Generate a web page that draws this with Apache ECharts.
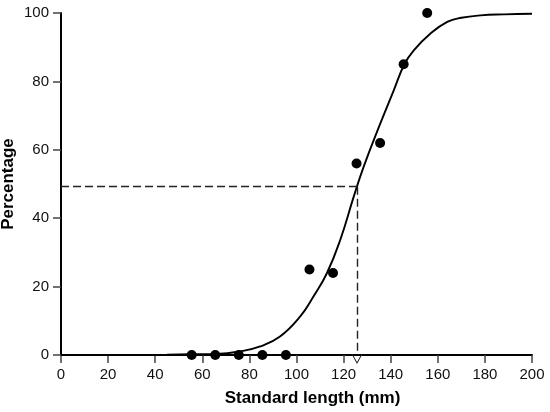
<!DOCTYPE html>
<html>
<head>
<meta charset="utf-8">
<script src="https://cdn.jsdelivr.net/npm/echarts@6/dist/echarts.min.js"></script>
<style>
  html, body { margin: 0; padding: 0; background: #fff; }
  #graph { width: 550px; height: 412px; }
</style>
</head>
<body>
<div id="graph"></div>
<script>
var chart = echarts.init(document.getElementById('graph'));

// observed percentages (dots)
var lengths = [55.5, 65.5, 75.5, 85.5, 95.5, 105.5, 115.5, 125.5, 135.5, 145.5, 155.5];
var percent = [0, 0, 0, 0, 0, 25, 24, 56, 62, 85, 100];

// fitted curve
var curveX = [0, 30, 45, 55, 66, 76, 84.6, 93, 101.6, 107.2, 112.9, 118.6, 124.3, 128.5, 135.6, 141.3, 145.8, 149.8, 156.9, 164, 170, 178.2, 188, 200];
var curveY = [0, 0.02, 0.1, 0.2, 0.3, 1.05, 2.5, 5.4, 11.3, 17.1, 23.9, 33.7, 46.3, 55, 67.7, 77.4, 85, 89.1, 94, 97.4, 98.6, 99.3, 99.6, 99.8];

// length at 50% maturity
var l50x = 125.7;
var l50y = 49.2;

var xTicks = [0, 20, 40, 60, 80, 100, 120, 140, 160, 180, 200];
var yTicks = [0, 20, 40, 60, 80, 100];

var font = 'Liberation Sans, Arial, sans-serif';

var dots = lengths.map(function (x, i) { return [x, percent[i]]; });
var curve = curveX.map(function (x, i) { return [x, curveY[i]]; });

option = {
    animation: false,
    grid: {
        left: 61,
        right: 18,
        top: 13,
        bottom: 57,
        containLabel: false,
        outerBoundsMode: 'none'
    },
    xAxis: {
        type: 'value',
        min: xTicks[0],
        max: xTicks[xTicks.length - 1],
        interval: 20,
        name: 'Standard length (mm)',
        nameLocation: 'middle',
        nameGap: 35,
        nameMoveOverlap: false,
        nameTextStyle: {
            fontFamily: font,
            fontWeight: 'bold',
            fontSize: 17,
            color: '#000',
            padding: [0, 0, 0, 32]
        },
        axisLine: { lineStyle: { color: '#000', width: 2 } },
        axisTick: { length: 8, lineStyle: { color: '#444', width: 1.5 } },
        axisLabel: { margin: 12, fontFamily: font, fontSize: 15, color: '#111' },
        splitLine: { show: false }
    },
    yAxis: {
        type: 'value',
        min: yTicks[0],
        max: yTicks[yTicks.length - 1],
        interval: 20,
        name: 'Percentage',
        nameLocation: 'middle',
        nameRotate: 90,
        nameGap: 44,
        nameMoveOverlap: false,
        nameTextStyle: {
            fontFamily: font,
            fontWeight: 'bold',
            fontSize: 17,
            color: '#000'
        },
        axisLine: { show: true, lineStyle: { color: '#000', width: 2 } },
        axisTick: { show: true, length: 8, lineStyle: { color: '#444', width: 1.5 } },
        axisLabel: { margin: 12, fontFamily: font, fontSize: 15, color: '#111' },
        splitLine: { show: false }
    },
    series: [
        {
            name: 'fit',
            type: 'line',
            smooth: 0.45,
            symbol: 'none',
            data: curve,
            lineStyle: { color: '#000', width: 1.9 },
            z: 3,
            markLine: {
                silent: true,
                symbol: 'none',
                label: { show: false },
                lineStyle: { color: '#222', width: 1.4, type: [8, 4] },
                data: [
                    [{ coord: [0, l50y] }, { coord: [l50x, l50y] }],
                    [
                        { coord: [l50x, l50y], symbol: 'none' },
                        {
                            coord: [l50x, 0],
                            symbol: 'path://M0,10L5,0.5L10,10L9,10L5,2.4L1,10Z',
                            symbolSize: [11, 10],
                            symbolOffset: [0, -4]
                        }
                    ]
                ]
            }
        },
        {
            name: 'observed',
            type: 'scatter',
            symbol: 'circle',
            symbolSize: 10,
            data: dots,
            itemStyle: { color: '#000', opacity: 1 },
            z: 4
        }
    ]
};

option && chart.setOption(option);
</script>
</body>
</html>
